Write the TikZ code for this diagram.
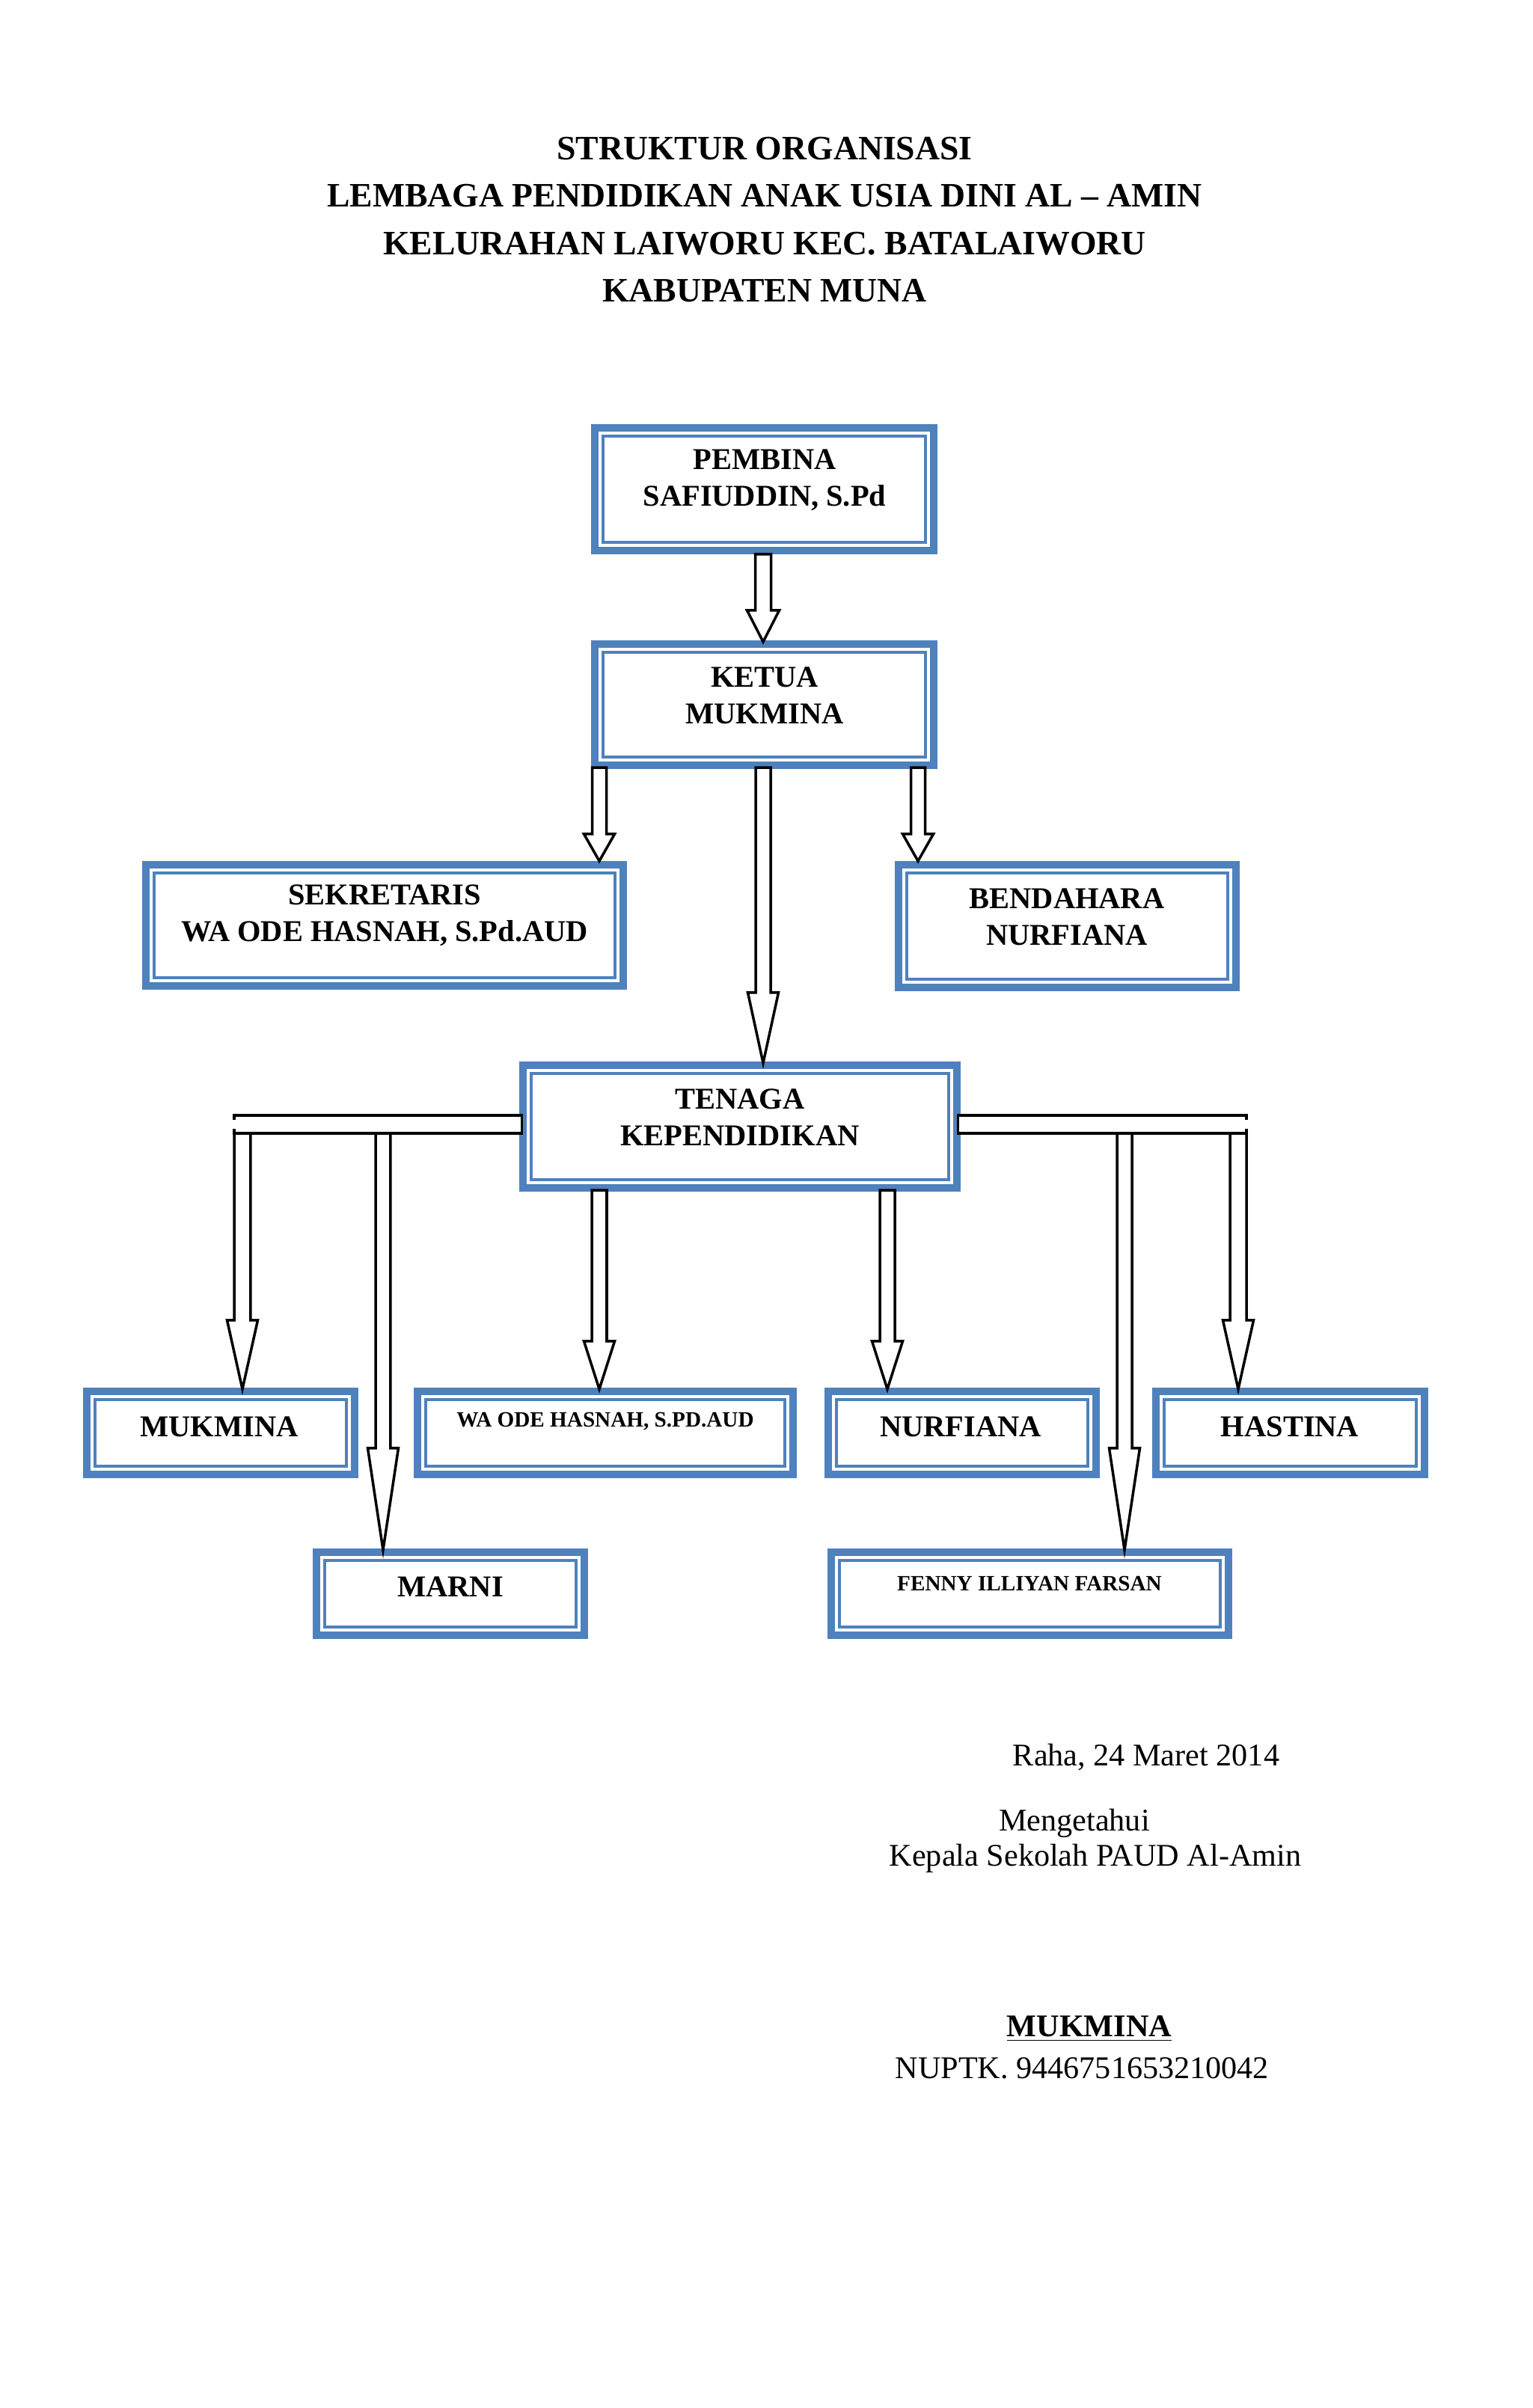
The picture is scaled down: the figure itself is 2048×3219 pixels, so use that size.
\documentclass[tikz,border=0pt]{standalone}
\usepackage{fontspec}
\setmainfont{Liberation Serif}
\usetikzlibrary{calc}
\definecolor{bblue}{HTML}{4F81BD}
\tikzset{
  x=0.01cm,y=-0.01cm,
  outerb/.style={draw=bblue,line width=0.1cm},
  innerb/.style={draw=bblue,line width=0.035cm},
  arrowsty/.style={draw=black,fill=white,line width=0.035cm,line join=miter},
  bt/.style={font=\bfseries\fontsize{11.5}{14}\selectfont,align=center,inner sep=0pt},
  st/.style={font=\bfseries\fontsize{8.3}{10}\selectfont,align=center,inner sep=0pt},
  tt/.style={font=\bfseries\fontsize{13}{15.5}\selectfont,align=center,inner sep=0pt},
  ft/.style={font=\fontsize{12}{14}\selectfont,inner sep=0pt},
}
% box: name, x1,y1,x2,y2
\newcommand\mybox[5]{%
  \node[inner sep=0pt,minimum width={(#4-#2)*0.01cm},minimum height={(#5-#3)*0.01cm}] (#1) at ({(#2+#4)/2},{(#3+#5)/2}) {};
  \draw[outerb] (#2+5,#3+5) rectangle (#4-5,#5-5);
  \draw[innerb] (#2+16,#3+16) rectangle (#4-16,#5-16);}
% vertical block arrow: start coord, end coord, shaft, headw, headlen (pixel numbers)
\newcommand\barr[5]{%
  \draw[arrowsty] let \p1=(#1), \p2=(#2) in
   (\x1-#3*0.142pt,\y1) -- (\x1-#3*0.142pt,\y2+#5*0.2845pt) -- (\x1-#4*0.142pt,\y2+#5*0.2845pt) -- (\x1,\y2)
   -- (\x1+#4*0.142pt,\y2+#5*0.2845pt) -- (\x1+#3*0.142pt,\y2+#5*0.2845pt) -- (\x1+#3*0.142pt,\y1) -- cycle;}
\begin{document}
\begin{tikzpicture}
\useasboundingbox[fill=white] (0,0) rectangle (2048,3219);
\node[tt] (t1) at (1022,199) {STRUKTUR ORGANISASI};
\node[tt] (t2) at (1022,262) {LEMBAGA PENDIDIKAN ANAK USIA DINI AL – AMIN};
\node[tt] (t3) at (1022,326) {KELURAHAN LAIWORU KEC. BATALAIWORU};
\node[tt] (t4) at (1022,389) {KABUPATEN MUNA};

\mybox{pem}{790}{567}{1253}{741}
\node[bt] (pemt) at (1022,642) {PEMBINA\\SAFIUDDIN, S.Pd};
\mybox{ket}{790}{856}{1253}{1028}
\node[bt] (kett) at (1022,930) {KETUA\\MUKMINA};
\mybox{sek}{190}{1151}{838}{1323}
\node[bt] (sekt) at (514,1224) {SEKRETARIS\\WA ODE HASNAH, S.Pd.AUD};
\mybox{ben}{1196}{1151}{1657}{1325}
\node[bt] (bent) at (1426,1226) {BENDAHARA\\NURFIANA};
\mybox{ten}{694}{1419}{1284}{1593}
\node[bt] (tent) at (989,1494) {TENAGA\\KEPENDIDIKAN};

\mybox{m1}{111}{1855}{479}{1976}
\node[bt] at (293,1907) {MUKMINA};
\mybox{m2}{553}{1855}{1065}{1976}
\node[st] at (809,1900) {WA ODE HASNAH, S.PD.AUD};
\mybox{m3}{1102}{1855}{1470}{1976}
\node[bt] at (1284,1907) {NURFIANA};
\mybox{m4}{1540}{1855}{1909}{1976}
\node[bt] at (1724,1907) {HASTINA};
\mybox{m5}{418}{2070}{786}{2191}
\node[bt] at (602,2121) {MARNI};
\mybox{m6}{1106}{2070}{1647}{2191}
\node[st] at (1376,2117) {FENNY ILLIYAN FARSAN};

% arrows
\coordinate (a1s) at (1020,741); \coordinate (a1e) at (1020,858);
\barr{a1s}{a1e}{21}{43}{42}
\coordinate (a2s) at (801,1026); \coordinate (a2e) at (801,1151);
\barr{a2s}{a2e}{19}{41}{36}
\coordinate (a3s) at (1227,1026); \coordinate (a3e) at (1227,1151);
\barr{a3s}{a3e}{19}{41}{36}
\coordinate (a4s) at (1020,1026); \coordinate (a4e) at (1020,1421);
\barr{a4s}{a4e}{20}{41}{94}
\coordinate (a5s) at (801,1591); \coordinate (a5e) at (801,1857);
\barr{a5s}{a5e}{20}{41}{64}
\coordinate (a6s) at (1186,1591); \coordinate (a6e) at (1186,1857);
\barr{a6s}{a6e}{20}{41}{64}

% left bar
\coordinate (lbs) at (324,1491); \coordinate (lbe) at (324,1857);
\barr{lbs}{lbe}{22}{41}{92}
\draw[arrowsty] (ten.west|-0,1491) ++(4,0) -- (313,1491) -- (313,1515) -- (ten.west|-0,1515) -- ++(4,0) -- cycle;
\coordinate (mas) at (512,1515); \coordinate (mae) at (512,2072);
\barr{mas}{mae}{20}{41}{136}
\draw[white,line width=0.15cm] (316,1497) -- (316,1509);
\draw[white,line width=0.13cm] (335,1497) -- (335,1509);

% right bar
\coordinate (rbs) at (1655,1491); \coordinate (rbe) at (1655,1857);
\barr{rbs}{rbe}{22}{41}{92}
\draw[arrowsty] (ten.east|-0,1491) ++(-4,0) -- (1666,1491) -- (1666,1515) -- (ten.east|-0,1515) -- ++(-4,0) -- cycle;
\coordinate (fes) at (1503,1515); \coordinate (fee) at (1503,2072);
\barr{fes}{fee}{20}{41}{136}
\draw[white,line width=0.15cm] (1663,1497) -- (1663,1509);
\draw[white,line width=0.13cm] (1644,1497) -- (1644,1509);

% footer
\node[ft] (f1) at (1532,2349) {Raha, 24 Maret 2014};
\node[ft] (f2) at (1436,2437) {Mengetahui};
\node[ft] (f3) at (1464,2484) {Kepala Sekolah PAUD Al-Amin};
\node[ft,font=\bfseries\fontsize{12}{14}\selectfont] (f4) at (1456,2712) {\underline{MUKMINA}};
\node[ft,anchor=west] (f5) at (1196,2765) {NUPTK. 9446751653210042};
\end{tikzpicture}
\end{document}
